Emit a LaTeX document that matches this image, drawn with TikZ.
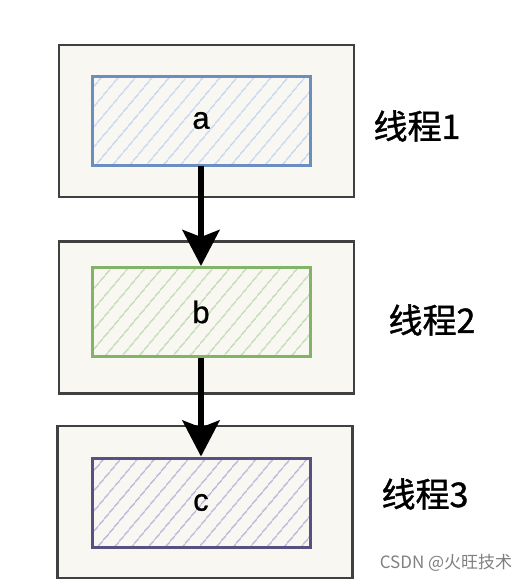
\documentclass[tikz,border=0pt]{standalone}
\usepackage{fontspec}
\setmainfont{Liberation Sans}
\newfontfamily\taskfont{Liberation Sans}[FakeBold=0.8]
\newfontfamily\cjk{Noto Sans CJK SC}
\newfontfamily\cjkheavy{Noto Sans CJK SC}[FakeBold=1.2]
\usetikzlibrary{patterns.meta,arrows.meta}
\definecolor{paper}{HTML}{F9F7F1}
\definecolor{frame}{HTML}{404040}
\definecolor{blueline}{HTML}{6C8EBF}
\definecolor{bluehatch}{HTML}{BBD3F2}
\definecolor{greenline}{HTML}{82B366}
\definecolor{greenhatch}{HTML}{B7D9AE}
\definecolor{purpleline}{HTML}{56517E}
\definecolor{purplehatch}{HTML}{B2AED8}
\begin{document}
\begin{tikzpicture}[x=1pt,y=-1pt,
  thread/.style={draw=frame,fill=paper,line width=2.5pt,minimum width=295pt,minimum height=152pt},
  task/.style={line width=3pt,minimum width=218pt,minimum height=89pt,
    font=\taskfont\fontsize{31}{34}\selectfont},
  hatch/.style={pattern={Lines[angle=50,distance=13pt,line width=1.3pt]},pattern color=#1},
  tag/.style={font=\cjkheavy\fontsize{34}{38}\selectfont},
  link/.style={line width=6pt,-{Stealth[length=36pt,width=37pt,inset=7pt]}}]
\useasboundingbox (0,0) rectangle (530,582);
% threads
\node[thread] (t1) at (206.5,121) {};
\node[thread] (t2) at (206.5,317.5) {};
\node[thread] (t3) at (205,502) {};
% tasks
\node[task,draw=blueline,hatch=bluehatch] (a) at (201,120.5) {a};
\node[task,draw=greenline,hatch=greenhatch] (b) at (201,312) {b};
\node[task,draw=purpleline,hatch=purplehatch] (c) at (201,502.5) {c};
% labels
\node[tag] (l1) at (417,126) {线程1};
\node[tag] (l2) at (432,320) {线程2};
\node[tag] (l3) at (425,494) {线程3};
\node[font=\cjk\fontsize{17}{19}\selectfont,text=gray] (mark) at (446,563) {CSDN @火旺技术};
% arrows
\draw[link] (a) -- (b);
\draw[link] (b) -- (c);
\end{tikzpicture}
\end{document}
